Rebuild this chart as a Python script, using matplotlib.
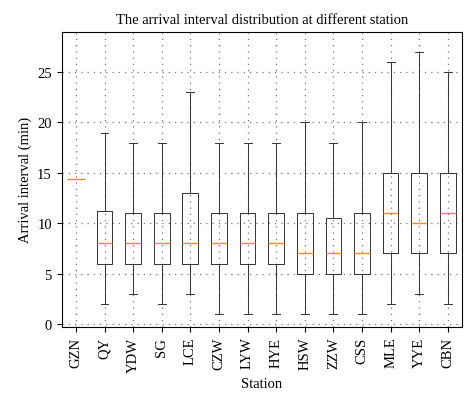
import matplotlib
matplotlib.use("Agg")
import matplotlib.pyplot as plt

stations = ["GZN","QY","YDW","SG","LCE","CZW","LYW","HYE","HSW","ZZW","CSS","MLE","YYE","CBN"]
whislo = [14.4,2,3,2,3,1,1,1,1,1,1,2,3,2]
q1     = [14.4,6,6,6,6,6,6,6,5,5,5,7,7,7]
med    = [14.4,8,8,8,8,8,8,8,7,7,7,11,10,11]
q3     = [14.4,11.2,11,11,13,11,11,11,11,10.5,11,15,15,15]
whishi = [14.4,19,18,18,23,18,18,18,20,18,20,26,27,25]

plt.rcParams['font.family'] = ['Liberation Serif', 'DejaVu Serif']
fig, ax = plt.subplots(figsize=(4.74, 4.10), dpi=100)
stats = [dict(label=s, whislo=a, q1=b, med=c, q3=d, whishi=e, fliers=[])
         for s, a, b, c, d, e in zip(stations, whislo, q1, med, q3, whishi)]
ax.bxp(stats, widths=0.55,
       boxprops=dict(color='#333333', linewidth=0.7),
       whiskerprops=dict(color='#333333', linewidth=0.7),
       capprops=dict(color='#333333', linewidth=0.7),
       medianprops=dict(color='#ff8c1a', linewidth=1.0))
ax.set_ylim(-0.3, 29)
ax.set_yticks([0,5,10,15,20,25])
ax.grid(True, linestyle=(0, (1, 4)), color='#777777', linewidth=0.9)
ax.set_axisbelow(True)
ax.tick_params(axis='x', rotation=90, labelsize=10.5)
ax.tick_params(axis='y', labelsize=10.5)
ax.set_xlabel("Station", fontsize=10.5)
ax.set_ylabel("Arrival interval (min)", fontsize=10.5)
ax.set_title("The arrival interval distribution at different station", fontsize=10.5)
fig.subplots_adjust(left=0.13, right=0.975, top=0.92, bottom=0.2)
fig.savefig("out.png")
